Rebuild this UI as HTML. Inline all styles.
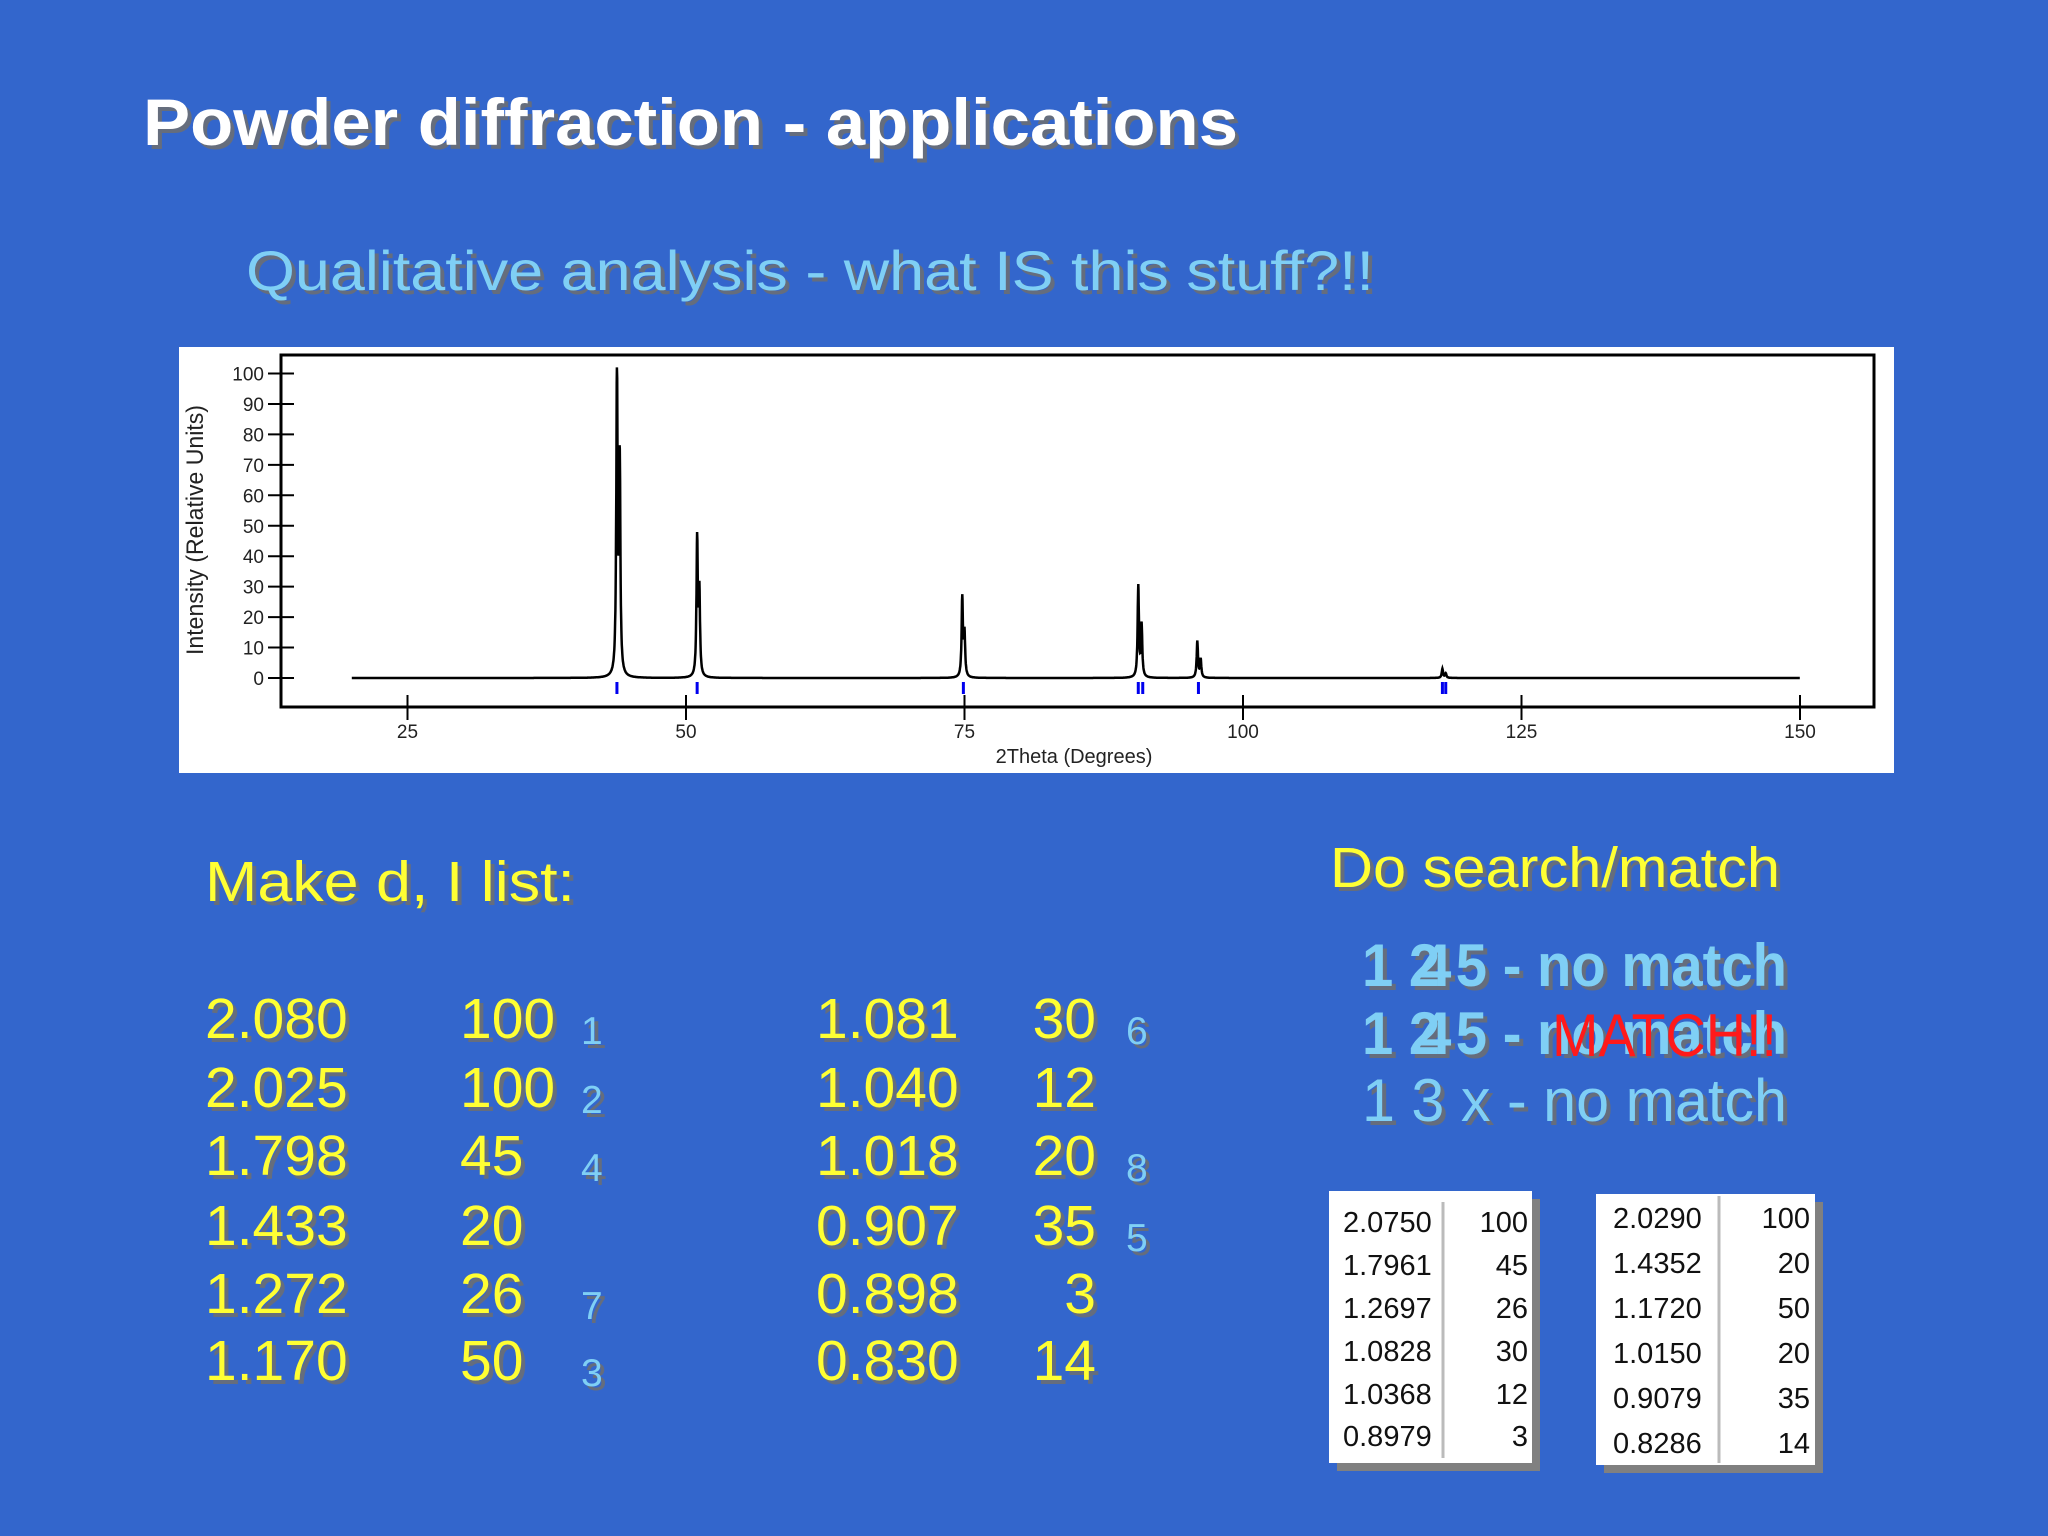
<!DOCTYPE html>
<html><head><meta charset="utf-8"><style>
html,body{margin:0;padding:0;background:#3366cc;}
svg{display:block}
text{font-family:"Liberation Sans",sans-serif}
.sh{filter:drop-shadow(4px 4px 0 rgba(110,110,110,0.85))}
</style></head><body>
<svg id="slide" width="2048" height="1536" viewBox="0 0 2048 1536" xmlns="http://www.w3.org/2000/svg">
<rect width="2048" height="1536" fill="#3366cc"/>
<text class="sh" x="143" y="145" font-size="66" font-weight="bold" fill="#fff" textLength="1095" lengthAdjust="spacingAndGlyphs">Powder diffraction - applications</text>
<text class="sh" x="246" y="290" font-size="56" fill="#7fcff5" textLength="1128" lengthAdjust="spacingAndGlyphs">Qualitative analysis - what IS this stuff?!!</text>

<g>
<rect x="179" y="347" width="1715" height="426" fill="#fff"/>
<rect x="281" y="355" width="1593" height="352" fill="none" stroke="#000" stroke-width="3"/>
<g id="yaxis"></g><g id="xaxis"></g>
<path id="trace" fill="none" stroke="#000" stroke-width="2.5"/>
<g id="marks"></g>
<text x="203" y="530" font-size="24" fill="#222" transform="rotate(-90 203 530)" text-anchor="middle" textLength="250" lengthAdjust="spacingAndGlyphs">Intensity (Relative Units)</text>
<text x="1074" y="763" font-size="20" fill="#222" text-anchor="middle">2Theta (Degrees)</text>
</g>

<g class="sh" font-size="57" fill="#ffff33">
<text x="205" y="901" textLength="370" lengthAdjust="spacingAndGlyphs">Make d, I list:</text>
<g id="listrows"></g>
</g>

<text class="sh" x="1330" y="887" font-size="57" fill="#ffff33" textLength="450" lengthAdjust="spacingAndGlyphs">Do search/match</text>
<g class="sh" font-size="60" font-weight="bold" fill="#7fcff5">
<text x="1362" y="986" textLength="425" lengthAdjust="spacingAndGlyphs">1 2 5 - no match</text>
<text x="1418" y="986">4</text>
<text x="1362" y="1054" textLength="425" lengthAdjust="spacingAndGlyphs">1 2 5 - no match</text>
<text x="1418" y="1054">4</text>
<text x="1362" y="1121" font-weight="normal" textLength="425" lengthAdjust="spacingAndGlyphs">1 3 x - no match</text>
</g>
<text x="1552" y="1056" font-size="60" fill="#ff1a1a" textLength="225" lengthAdjust="spacingAndGlyphs">MATCH!!</text>

<g>
<rect x="1337" y="1199" width="203" height="272" fill="#808080"/>
<rect x="1329" y="1191" width="203" height="272" fill="#fff"/>
<line x1="1443" y1="1202" x2="1443" y2="1458" stroke="#bbb" stroke-width="3"/>
<g id="t1" font-size="29" fill="#111"></g>
</g>
<g>
<rect x="1604" y="1202" width="219" height="271" fill="#808080"/>
<rect x="1596" y="1194" width="219" height="271" fill="#fff"/>
<line x1="1719" y1="1196" x2="1719" y2="1463" stroke="#bbb" stroke-width="3"/>
<g id="t2" font-size="29" fill="#111"></g>
</g>
</svg>
<script>
const peakPos=[43.8,44.05,51.0,51.2,74.8,75.0,90.6,90.9,95.9,96.2,117.9,118.2];
const peakInt=[100,70,45,27,26,14,30,17,12,6,3,1.5];
const markPos=[43.8,51.0,74.9,90.6,91.0,96.0,117.9,118.2];
const yTicks=[0,10,20,30,40,50,60,70,80,90,100];
const xTicks=[25,50,75,100,125,150];
const listD1=["2.080","2.025","1.798","1.433","1.272","1.170"];
const listI1=["100","100","45","20","26","50"];
const listN1=["1","2","4","","7","3"];
const listD2=["1.081","1.040","1.018","0.907","0.898","0.830"];
const listI2=["30","12","20","35","3","14"];
const listN2=["6","","8","5","",""];
const t1D=["2.0750","1.7961","1.2697","1.0828","1.0368","0.8979"];
const t1I=["100","45","26","30","12","3"];
const t2D=["2.0290","1.4352","1.1720","1.0150","0.9079","0.8286"];
const t2I=["100","20","50","20","35","14"];

const NS="http://www.w3.org/2000/svg";
const X=v=>407.5+(v-25)*(1800-407.5)/125;
const Y=v=>678-(v)*(678-373.5)/100;
function mk(tag,attrs,parent,txt){const e=document.createElementNS(NS,tag);for(const k in attrs)e.setAttribute(k,attrs[k]);if(txt!==undefined)e.textContent=txt;parent.appendChild(e);return e;}
const ya=document.getElementById('yaxis');
yTicks.forEach(t=>{
 const l=mk('line',{x1:268,x2:294,y1:Y(t),y2:Y(t),stroke:'#000','stroke-width':2},ya);
 
 
 const tx=mk('text',{x:264,y:Y(t)+7,'font-size':19,'text-anchor':'end',fill:'#222'},ya,t);
 
 
});
const xa=document.getElementById('xaxis');
xTicks.forEach(t=>{
 const l=mk('line',{x1:X(t),x2:X(t),y1:695,y2:720,stroke:'#000','stroke-width':2},xa);
 
 
 const tx=mk('text',{x:X(t),y:738,'font-size':19,'text-anchor':'middle',fill:'#222'},xa,t);
 
 
});
let d="";
for(let v=20;v<=150;v+=0.02){
 let s=0;for(let i=0;i<peakPos.length;i++){const w=0.07;const u=(v-peakPos[i])/w;s+=peakInt[i]/(1+u*u);}
 d+=(d?"L":"M")+X(v).toFixed(1)+","+Y(Math.min(s,102)).toFixed(1);
}
document.getElementById('trace').setAttribute('d',d);
const mg=document.getElementById('marks');
markPos.forEach(p=>{
 const l=mk('line',{x1:X(p),x2:X(p),y1:682,y2:694,stroke:'#0000ee','stroke-width':3},mg);
 
 
});
const lr=document.getElementById('listrows');
const rowsY=[1038,1107,1175,1245,1313,1380];
rowsY.forEach((y,i)=>{
 let e=mk('text',{x:205,y:y},lr,listD1[i]);
 e=mk('text',{x:460,y:y},lr,listI1[i]);
 e=mk('text',{x:581,y:y+6,'font-size':39,fill:'#7fcff5'},lr,listN1[i]);
 e=mk('text',{x:816,y:y},lr,listD2[i]);
 e=mk('text',{x:1096,y:y,'text-anchor':'end'},lr,listI2[i]);
 e=mk('text',{x:1126,y:y+6,'font-size':39,fill:'#7fcff5'},lr,listN2[i]);
});
function table(id,D,I,ys,dx,ix){
 const g=document.getElementById(id);
 ys.forEach((y,i)=>{
  let e=mk('text',{x:dx,y:y},g,D[i]);
  e=mk('text',{x:ix,y:y,'text-anchor':'end'},g,I[i]);
 });
}
table('t1',t1D,t1I,[1232,1275,1318,1361,1404,1446],1343,1528);
table('t2',t2D,t2I,[1228,1273,1318,1363,1408,1453],1613,1810);
</script>
</body></html>
